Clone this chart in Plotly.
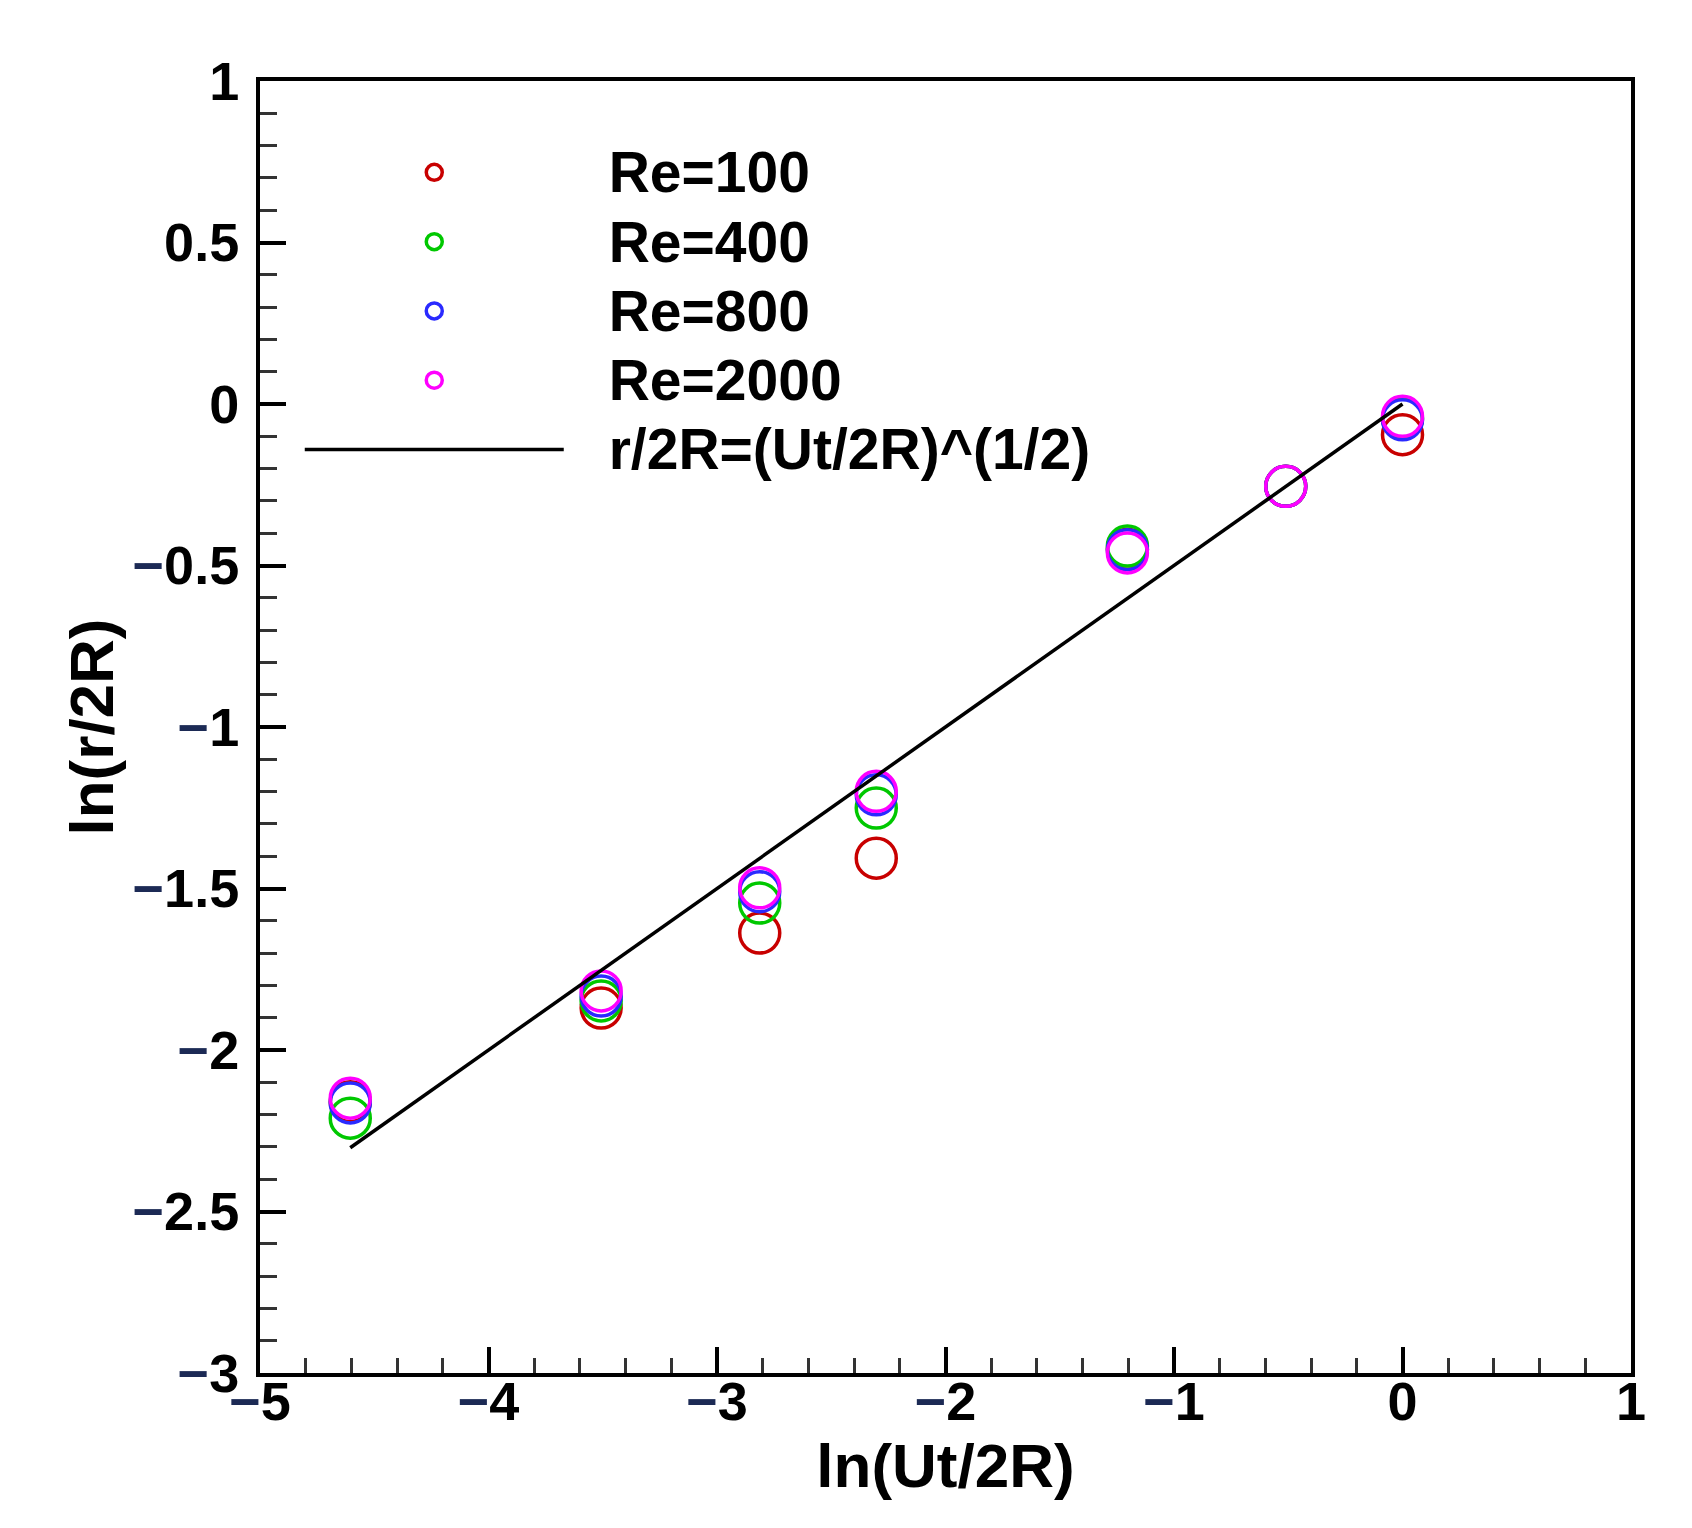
import plotly.graph_objects as go

# ln(Ut/2R) sample positions
x_vals = [-4.605, -3.507, -2.813, -2.303, -1.204, -0.511, 0.0]

# ln(r/2R) for each Reynolds number
re100 = [-2.160, -1.870, -1.638, -1.406, -0.450, -0.255, -0.095]
re400 = [-2.211, -1.848, -1.545, -1.251, -0.440, -0.255, -0.045]
re800 = [-2.164, -1.833, -1.510, -1.210, -0.451, -0.255, -0.049]
re2000 = [-2.149, -1.817, -1.498, -1.199, -0.461, -0.255, -0.038]

# r/2R = (Ut/2R)^(1/2)  ->  slope 1/2 in log-log
fit_x = [-4.605, 0.0]
fit_y = [-2.3025, 0.0]

series = [('Re=100', re100, '#c80000'),
          ('Re=400', re400, '#00c800'),
          ('Re=800', re800, '#2a2aff'),
          ('Re=2000', re2000, '#ff00ff')]
fit_name = 'r/2R=(Ut/2R)^(1/2)'

x_ticks = [-5, -4, -3, -2, -1, 0, 1]
y_ticks = [1, 0.5, 0, -0.5, -1, -1.5, -2, -2.5, -3]

MINUS = "<span style='color:#1c2a55'>\u2212</span>"

def tick_label(v):
    s = ('%g' % abs(v))
    return (MINUS + s) if v < 0 else s

def legend_label(s):
    # bigger text than the row spacing allows, plus a gap after the symbol
    return "<span style='font-size:57px'>\u2002\u2009" + s + "</span>"

FONT = "Liberation Sans, Arial, sans-serif"

fig = go.Figure()
for name, ys, col in series:
    fig.add_trace(go.Scatter(x=x_vals, y=ys, mode='markers', name=legend_label(name),
                             marker=dict(symbol='circle-open', size=40, color=col,
                                         line=dict(width=3.5, color=col))))
fig.add_trace(go.Scatter(x=fit_x, y=fit_y, mode='lines', name=legend_label(fit_name),
                         line=dict(color='black', width=3.5)))

axis_common = dict(showline=True, linecolor='black', linewidth=4, mirror=True,
                   ticks='inside', ticklen=26, tickwidth=4, tickcolor='black',
                   showgrid=False, zeroline=False,
                   tickfont=dict(family=FONT, size=54, color='black', weight='bold'))

fig.update_xaxes(range=[-5, 1], tickvals=x_ticks, ticktext=[tick_label(v) for v in x_ticks],
                 ticklabelstandoff=-22,
                 minor=dict(dtick=0.2, ticks='inside', ticklen=15, tickwidth=2.5,
                            tickcolor='#333333', showgrid=False),
                 title=dict(text='ln(Ut/2R)', standoff=0,
                            font=dict(family=FONT, size=62, color='black', weight='bold')),
                 **axis_common)
fig.update_yaxes(range=[-3, 1], tickvals=y_ticks, ticktext=[tick_label(v) for v in y_ticks],
                 ticklabelstandoff=6,
                 minor=dict(dtick=0.1, ticks='inside', ticklen=17, tickwidth=2.5,
                            tickcolor='#333333', showgrid=False),
                 title=dict(text='ln(r/2R)', standoff=0,
                            font=dict(family=FONT, size=62, color='black', weight='bold')),
                 **axis_common)

fig.update_layout(width=1692, height=1528,
                  margin=dict(l=252, r=69, t=73, b=163, autoexpand=False),
                  plot_bgcolor='white', paper_bgcolor='white',
                  legend=dict(x=0.029, y=0.960, xanchor='left', yanchor='top',
                              bgcolor='rgba(0,0,0,0)', itemwidth=259,
                              itemsizing='trace',
                              font=dict(family=FONT, size=51, color='black', weight='bold')),
                  showlegend=True)

fig.write_html("out.html")
